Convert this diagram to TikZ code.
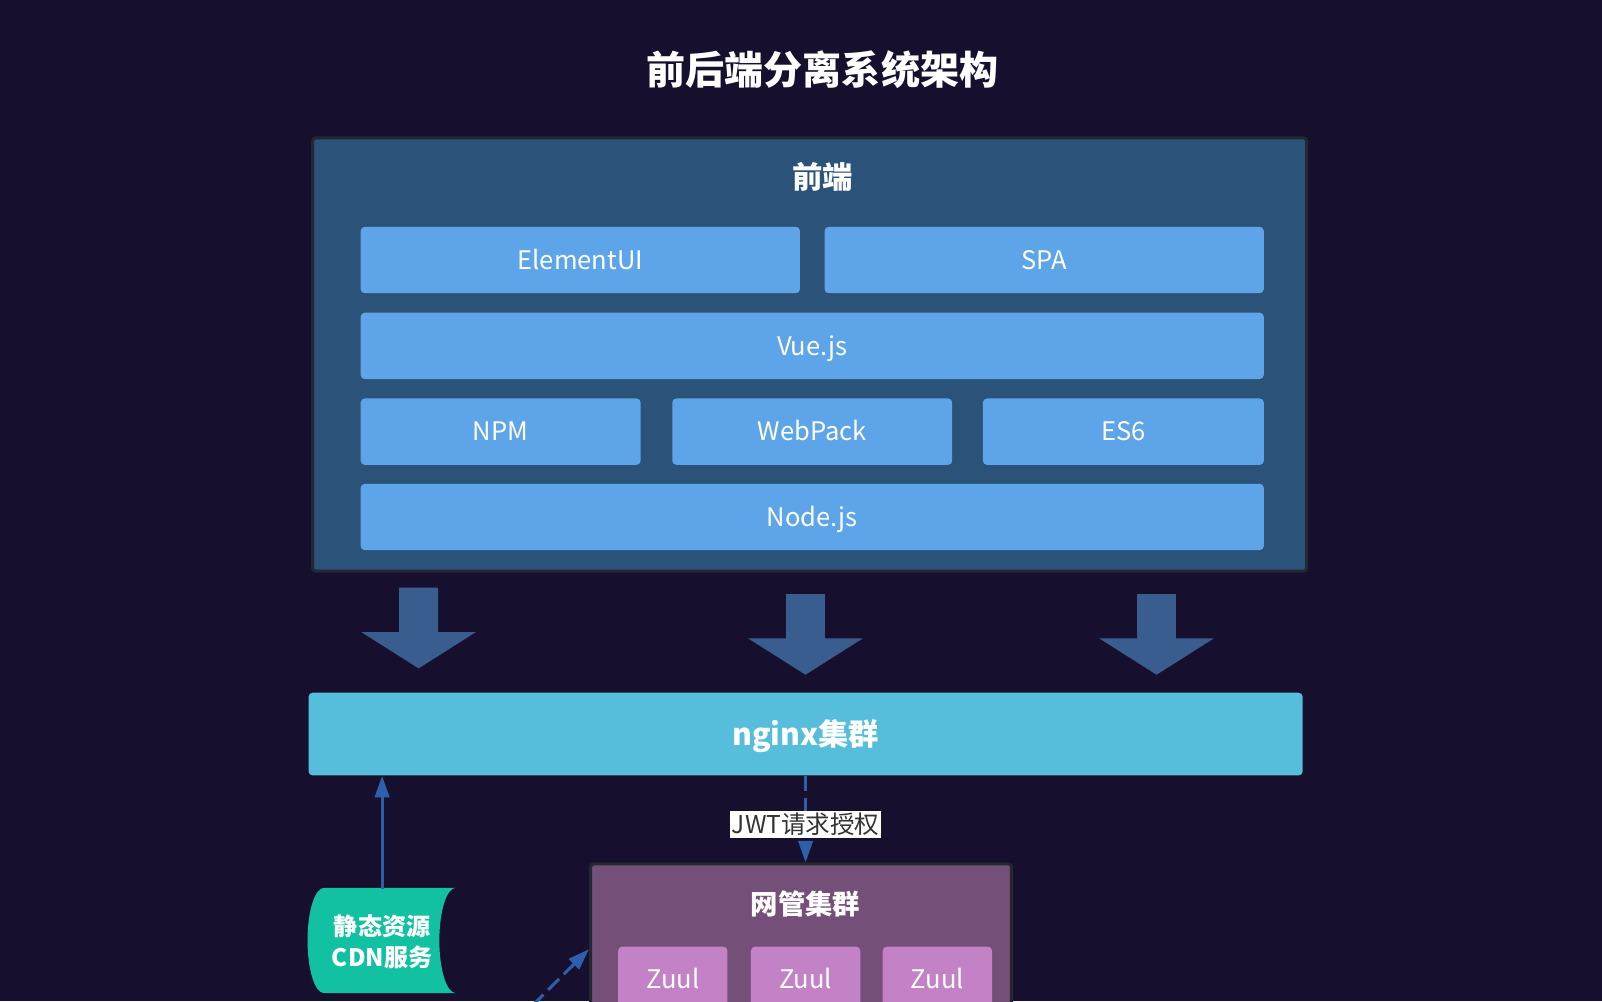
\documentclass[tikz,border=0pt]{standalone}
\usepackage{fontspec}
\setmainfont{Noto Sans CJK SC}
\usetikzlibrary{arrows.meta}
\usetikzlibrary{positioning}

\definecolor{bg_dark}{RGB}{22,16,46}
\definecolor{front_blue}{RGB}{43,82,120}
\definecolor{item_blue}{RGB}{93,165,232}
\definecolor{flow_blue}{RGB}{58,93,143}
\definecolor{nginx_cyan}{RGB}{86,190,218}
\definecolor{link_blue}{RGB}{45,95,170}
\definecolor{gate_purple}{RGB}{116,79,119}
\definecolor{zuul_pink}{RGB}{195,130,197}
\definecolor{cdn_green}{RGB}{18,192,162}
\definecolor{edge_gray}{RGB}{36,40,48}

\tikzstyle{group_panel} = [
    draw=edge_gray,
    line width=1.5pt,
    rounded corners=1.5pt,
    inner sep=0pt
]
\tikzstyle{item_box} = [
    rounded corners=2pt,
    fill=item_blue,
    text=white,
    font=\fontsize{12.5}{15}\selectfont,
    inner sep=0pt,
    text height=9.1pt, % keeps capitals centred
    text depth=0pt,
    minimum height=32.5pt
]
\tikzstyle{zuul_box} = [
    item_box,
    fill=zuul_pink,
    minimum width=53.5pt,
    minimum height=31.5pt
]
\tikzstyle{heading} = [
    text=white,
    font=\bfseries\fontsize{14.9}{18}\selectfont
]
\tikzstyle{conn_line} = [
    draw=link_blue,
    line width=1.5pt,
    -{Triangle[length=10.5pt, width=7pt]}
]
\tikzstyle{conn_dashed} = [
    conn_line,
    dash pattern=on 7.5pt off 3.3pt
]

\begin{document}
\begin{tikzpicture}[
    x=0.5pt, y=-0.5pt,
    down_flow/.style={fill=flow_blue}
]
\clip (0,0) rectangle (1568,980);
\fill[bg_dark] (0,0) rectangle (1568,980);

\node[heading, font=\bfseries\fontsize{19.1}{23}\selectfont] (title) at (805,68) {前后端分离系统架构};

% frontend stack
\node[group_panel, fill=front_blue, minimum width=486.5pt, minimum height=212pt] (front) at (792.5,347) {};
\node[heading] (front_title) at (805,173) {前端};
\node[item_box, minimum width=215pt] (element) at (568,254.5) {ElementUI};
\node[item_box, minimum width=215pt] (spa) at (1022,254.5) {SPA};
\node[item_box, minimum width=442pt] (vue) at (795,338.5) {Vue.js};
\node[item_box, minimum width=137pt] (npm) at (490,422.5) {NPM};
\node[item_box, minimum width=137pt] (webpack) at (795,422.5) {WebPack};
\node[item_box, minimum width=137.5pt] (es6) at (1099.5,422.5) {ES6};
\node[item_box, minimum width=442pt] (node) at (795,506) {Node.js};

\foreach \cx/\ty in {409.7/575.2, 788.4/581.4, 1132/581.4}
    \fill[down_flow] (\cx-19,\ty) -- (\cx+19,\ty) -- (\cx+19,\ty+43.5) -- (\cx+56,\ty+43.5)
        -- (\cx,\ty+79) -- (\cx-56,\ty+43.5) -- (\cx-19,\ty+43.5) -- cycle;

\node[item_box, fill=nginx_cyan, minimum width=486.5pt, minimum height=40.5pt, text height=11.2pt,
    font=\bfseries\fontsize{14.8}{18}\selectfont] (nginx) at (788.5,718.5) {nginx集群};

% gateway
\node[group_panel, fill=gate_purple, minimum width=206pt, minimum height=130pt] (gate) at (784,975.6) {};
\node[heading, font=\bfseries\fontsize{13.4}{16}\selectfont] (gate_title) at (788.5,885) {网管集群};
\foreach \zx [count=\i] in {658.5, 788.5, 917.5}
    \node[zuul_box] (zuul\i) at (\zx,958) {Zuul};

% cdn store
\fill[cdn_green] (317,869) -- (446,869) arc[start angle=-90, end angle=-270, x radius=16, y radius=51.5]
    -- (317,972) arc[start angle=90, end angle=270, x radius=16, y radius=51.5] -- cycle;
\node[text=white, align=center, inner sep=0pt, minimum width=72.5pt, minimum height=51.5pt,
    font=\bfseries\fontsize{11.8}{15}\selectfont] (cdn) at (374,922) {静态资源\\CDN服务};

\coordinate (offstage) at (460,1045);
\draw[conn_line] (cdn.north) -- (cdn.north |- nginx.south);
\draw[conn_dashed] (nginx.south) -- node[pos=0.56, fill=white, text=black!80, inner sep=1pt,
    font=\fontsize{12}{14}\selectfont] (jwt) {JWT请求授权} (nginx.south |- gate.north);
\draw[conn_dashed] (offstage) -- (gate.west |- 0,929);
\end{tikzpicture}
\end{document}
